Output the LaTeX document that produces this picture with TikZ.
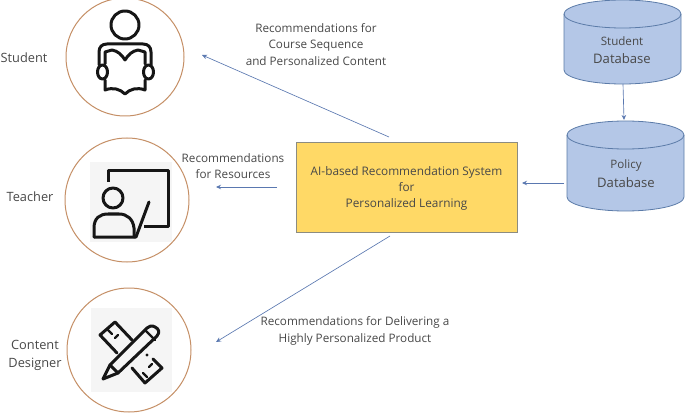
\documentclass[tikz,border=0pt]{standalone}
\usepackage{fontspec}
\setmainfont{Open Sans}
\usetikzlibrary{arrows.meta}
\definecolor{ringc}{HTML}{C58F66}
\definecolor{dbfill}{HTML}{B4C7E7}
\definecolor{dbline}{HTML}{5B7BA8}
\definecolor{arrowc}{HTML}{5A78B0}
\definecolor{boxfill}{HTML}{FFD966}
\definecolor{boxline}{HTML}{8C8C80}
\definecolor{txt}{HTML}{484848}
\definecolor{ink}{HTML}{161616}
\definecolor{panel}{HTML}{F5F5F5}
\tikzset{
  x=1pt,y=-1pt,
  ring/.style={draw=ringc,line width=1pt,circle,minimum size=#1,inner sep=0pt},
  lab/.style={text=txt,font=\fontsize{11.7}{16.5}\selectfont,align=center,inner sep=0pt},
  sidelab/.style={text=txt,font=\fontsize{12.8}{18}\selectfont,align=center,inner sep=0pt},
  dbsmall/.style={text=txt,font=\fontsize{11.6}{14}\selectfont,inner sep=0pt},
  dbbig/.style={text=txt,font=\fontsize{13.1}{15}\selectfont,inner sep=0pt},
  link/.style={draw=arrowc,line width=0.65pt,-{Stealth[length=5pt,width=4.5pt]}},
  icon/.style={draw=ink,line width=3pt,line join=round,line cap=round},
  tick/.style={draw=ink,line width=2.4pt,line cap=round},
  dbbody/.style={draw=dbline,fill=dbfill,line width=0.8pt},
  dbarc/.style={draw=dbline,line width=0.8pt},
}
\begin{document}
\begin{tikzpicture}
\useasboundingbox (0,0) rectangle (685,414);
% circles
\node[ring=118pt] (student) at (125,57) {};
\node[ring=124pt] (teacher) at (127,200) {};
\node[ring=124pt] (designer) at (129,350) {};
% panels
\fill[panel] (90,162) rectangle (172,242);
\fill[panel] (91,308) rectangle (172,392);
% student icon
\draw[icon] (125,25) circle (14);
\draw[icon] (99,65) -- (99,52) .. controls (99,47) and (102,44) .. (107,44) -- (143,44) .. controls (148,44) and (151,47) .. (151,52) -- (151,65);
\draw[icon] (105,64) -- (105,52) -- (112,50) .. controls (118,51) and (122,55) .. (125,60) .. controls (128,55) and (132,51) .. (138,50) -- (145,52) -- (145,64);
\draw[icon] (105,80) -- (105,90) .. controls (113,87) and (120,89) .. (125,94) .. controls (130,89) and (137,87) .. (145,90) -- (145,80);
\draw[icon] (102.500,72) ellipse (5 and 7);
\draw[icon] (148.500,72) ellipse (5 and 7);
% teacher icon
\draw[icon,line cap=butt] (108.500,182) -- (108.500,171) -- (168.500,171) -- (168.500,226.500) -- (144,226.500);
\draw[icon] (113,198) circle (10);
\draw[icon] (94,237) -- (94,228) .. controls (94,218) and (100,214) .. (108,214) -- (119,214) .. controls (127,214) and (133,219) .. (134,228) -- (134,237);
\draw[icon] (94,237) -- (136,237) -- (149,202);
% designer icon: ruler
\draw[icon] (117,353) -- (100,335) -- (115,322) -- (132,340);
\draw[icon] (153,359) -- (162,368) -- (145,383) -- (132,368);
\draw[tick] (107,329) -- (112,334);
\draw[tick] (115,338) -- (118,335);
\draw[tick] (152,364) -- (149,367);
\draw[tick] (143,373) -- (147,377);
% designer icon: pencil
\draw[icon] (110,365) -- (103,379) -- (118,373) -- (157,336) .. controls (160,332) and (159,329) .. (155,327) .. controls (152,325) and (149,326) .. (147,328) -- cycle;
\draw[icon] (110,365) -- (118,373);
\draw[tick] (145,330) -- (155,340);
\fill[ink] (147,355) circle (1.6);
% box
\node[draw=boxline,fill=boxfill,line width=0.8pt,minimum width=221pt,minimum height=90pt,inner sep=0pt,
  text=txt,font=\fontsize{11.8}{16}\selectfont,align=center] (ai) at (406.500,187) {};
\node[text=txt,font=\fontsize{11.8}{16}\selectfont,align=center,inner sep=0pt] (aitext) at (406.500,188)
  {AI-based Recommendation System\\for\\Personalized Learning};
% databases
\draw[dbbody] (564,14) -- (564,70) arc[start angle=180,end angle=360,x radius=58.5pt,y radius=14pt] -- (681,14) arc[start angle=0,end angle=180,x radius=58.5pt,y radius=14pt] -- cycle;
\draw[dbarc] (564,14) arc[start angle=180,end angle=360,x radius=58.5pt,y radius=14pt];
\node[inner sep=0pt,minimum width=117pt,minimum height=84pt] (sdb) at (622.500,42) {};
\node[dbsmall] at (622,41) {Student};
\node[dbbig] at (622,59) {Database};
\draw[dbbody] (567,135) -- (567,197) arc[start angle=180,end angle=360,x radius=58.5pt,y radius=14pt] -- (684,135) arc[start angle=0,end angle=180,x radius=58.5pt,y radius=14pt] -- cycle;
\draw[dbarc] (567,135) arc[start angle=180,end angle=360,x radius=58.5pt,y radius=14pt];
\node[inner sep=0pt,minimum width=117pt,minimum height=90pt] (pdb) at (625.500,166) {};
\node[dbsmall] at (626,165) {Policy};
\node[dbbig] at (626,183) {Database};
% connector ends
\coordinate (a1) at (389,137);
\coordinate (a2) at (202,55);
\coordinate (b1) at (277,187);
\coordinate (b2) at (216,187);
\coordinate (c1) at (390,236);
\coordinate (c2) at (216,342);
\coordinate (d1) at (564,183);
\coordinate (d2) at (522,183);
\coordinate (e1) at (623,84);
\coordinate (e2) at (624,120);
\draw[link] (a1) -- (a2);
\draw[link] (b1) -- (b2);
\draw[link] (c1) -- (c2);
\draw[link] (d1) -- (d2);
\draw[link] (e1) -- (e2);
% labels
\node[sidelab] (l1) at (24,58) {Student};
\node[sidelab] (l2) at (30,197) {Teacher};
\node[sidelab] (l3) at (35,355) {Content\\Designer};
\node[lab] (m1) at (316,44.500) {Recommendations for\\Course Sequence\\and Personalized Content};
\node[lab] (m2) at (233,166) {Recommendations\\for Resources};
\node[lab] (m3) at (355,331) {Recommendations for Delivering a\\Highly Personalized Product};
\end{tikzpicture}
\end{document}
